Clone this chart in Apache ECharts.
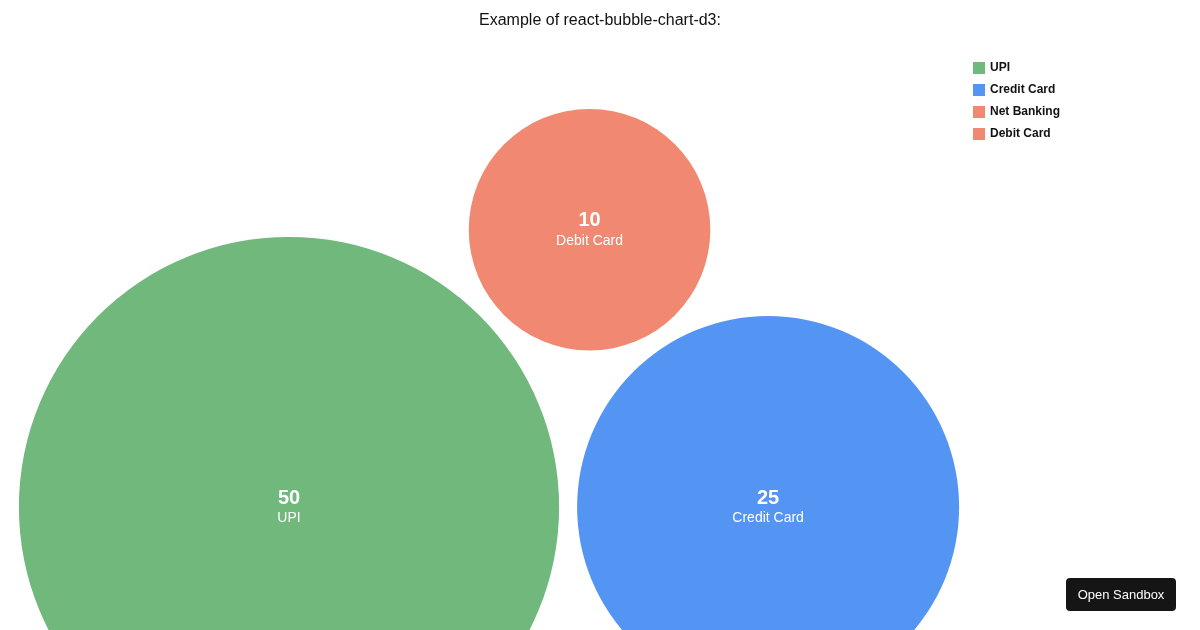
<!DOCTYPE html>
<html><head><meta charset="utf-8">
<script src="https://cdn.jsdelivr.net/npm/echarts@6/dist/echarts.min.js"></script>
<style>html,body{margin:0;padding:0;background:#fff}#c{width:1200px;height:630px}</style>
</head><body><div id="c"></div>
<script>
const categories = ['UPI', 'Credit Card', 'Net Banking', 'Debit Card'];
const values = [50, 25, 0, 10];
const colors = ['#71b87c', '#5495f4', '#f08872', '#f08872'];

// simple front-chain pack layout (pixel space)
const k = 38.2, pad = 18;
const r = values.map(v => k * Math.sqrt(v));
const pos = [];
pos[0] = [289, 507];
pos[1] = [pos[0][0] + r[0] + r[1] + pad, pos[0][1]];
{
  const a = r[0] + r[3] + pad, b = r[1] + r[3] + pad, d = pos[1][0] - pos[0][0];
  const x = (a * a - b * b + d * d) / (2 * d);
  const y = Math.sqrt(Math.max(0, a * a - x * x));
  pos[3] = [pos[0][0] + x, pos[0][1] - y];
}
const series = categories.map((name, i) => ({
  type: 'scatter', name,
  itemStyle: { color: colors[i], opacity: 1 },
  symbolSize: 2 * r[i],
  data: values[i] > 0 ? [{ value: [pos[i][0], pos[i][1], values[i]], name }] : [],
  label: {
    show: true, position: 'inside', color: '#fff',
    formatter: p => '{v|' + p.value[2] + '}\n{n|' + p.name + '}',
    rich: { v: { fontSize: 20, fontWeight: 'bold', color: '#fff', lineHeight: 22, fontFamily: 'Liberation Sans' },
            n: { fontSize: 14, color: '#fff', lineHeight: 18, fontFamily: 'Liberation Sans' } }
  },
  emphasis: { scale: false }
}));
const chart = echarts.init(document.getElementById('c'));
chart.setOption({
  animation: false,
  title: { text: 'Example of react-bubble-chart-d3:', left: 'center', top: 8,
    textStyle: { fontSize: 16, fontWeight: 'normal', color: '#111', fontFamily: 'Liberation Sans' } },
  legend: { orient: 'vertical', left: 968, top: 57, itemWidth: 12, itemHeight: 12, itemGap: 10,
    icon: 'rect', data: categories,
    textStyle: { fontSize: 12, fontWeight: 'bold', color: '#111', fontFamily: 'Liberation Sans' } },
  grid: { left: 0, right: 0, top: 0, bottom: 0 },
  xAxis: { type: 'value', min: 0, max: 1200, show: false },
  yAxis: { type: 'value', min: 0, max: 630, inverse: true, show: false },
  series,
  graphic: [{
    type: 'group', left: 1066, top: 578, children: [
      { type: 'rect', shape: { x: 0, y: 0, width: 110, height: 33, r: 4 }, style: { fill: '#151515' } },
      { type: 'text', x: 55, y: 17, style: { text: 'Open Sandbox', fill: '#fff', fontSize: 13,
        fontFamily: 'Liberation Sans', align: 'center', verticalAlign: 'middle' } }
    ]
  }]
});
</script></body></html>
